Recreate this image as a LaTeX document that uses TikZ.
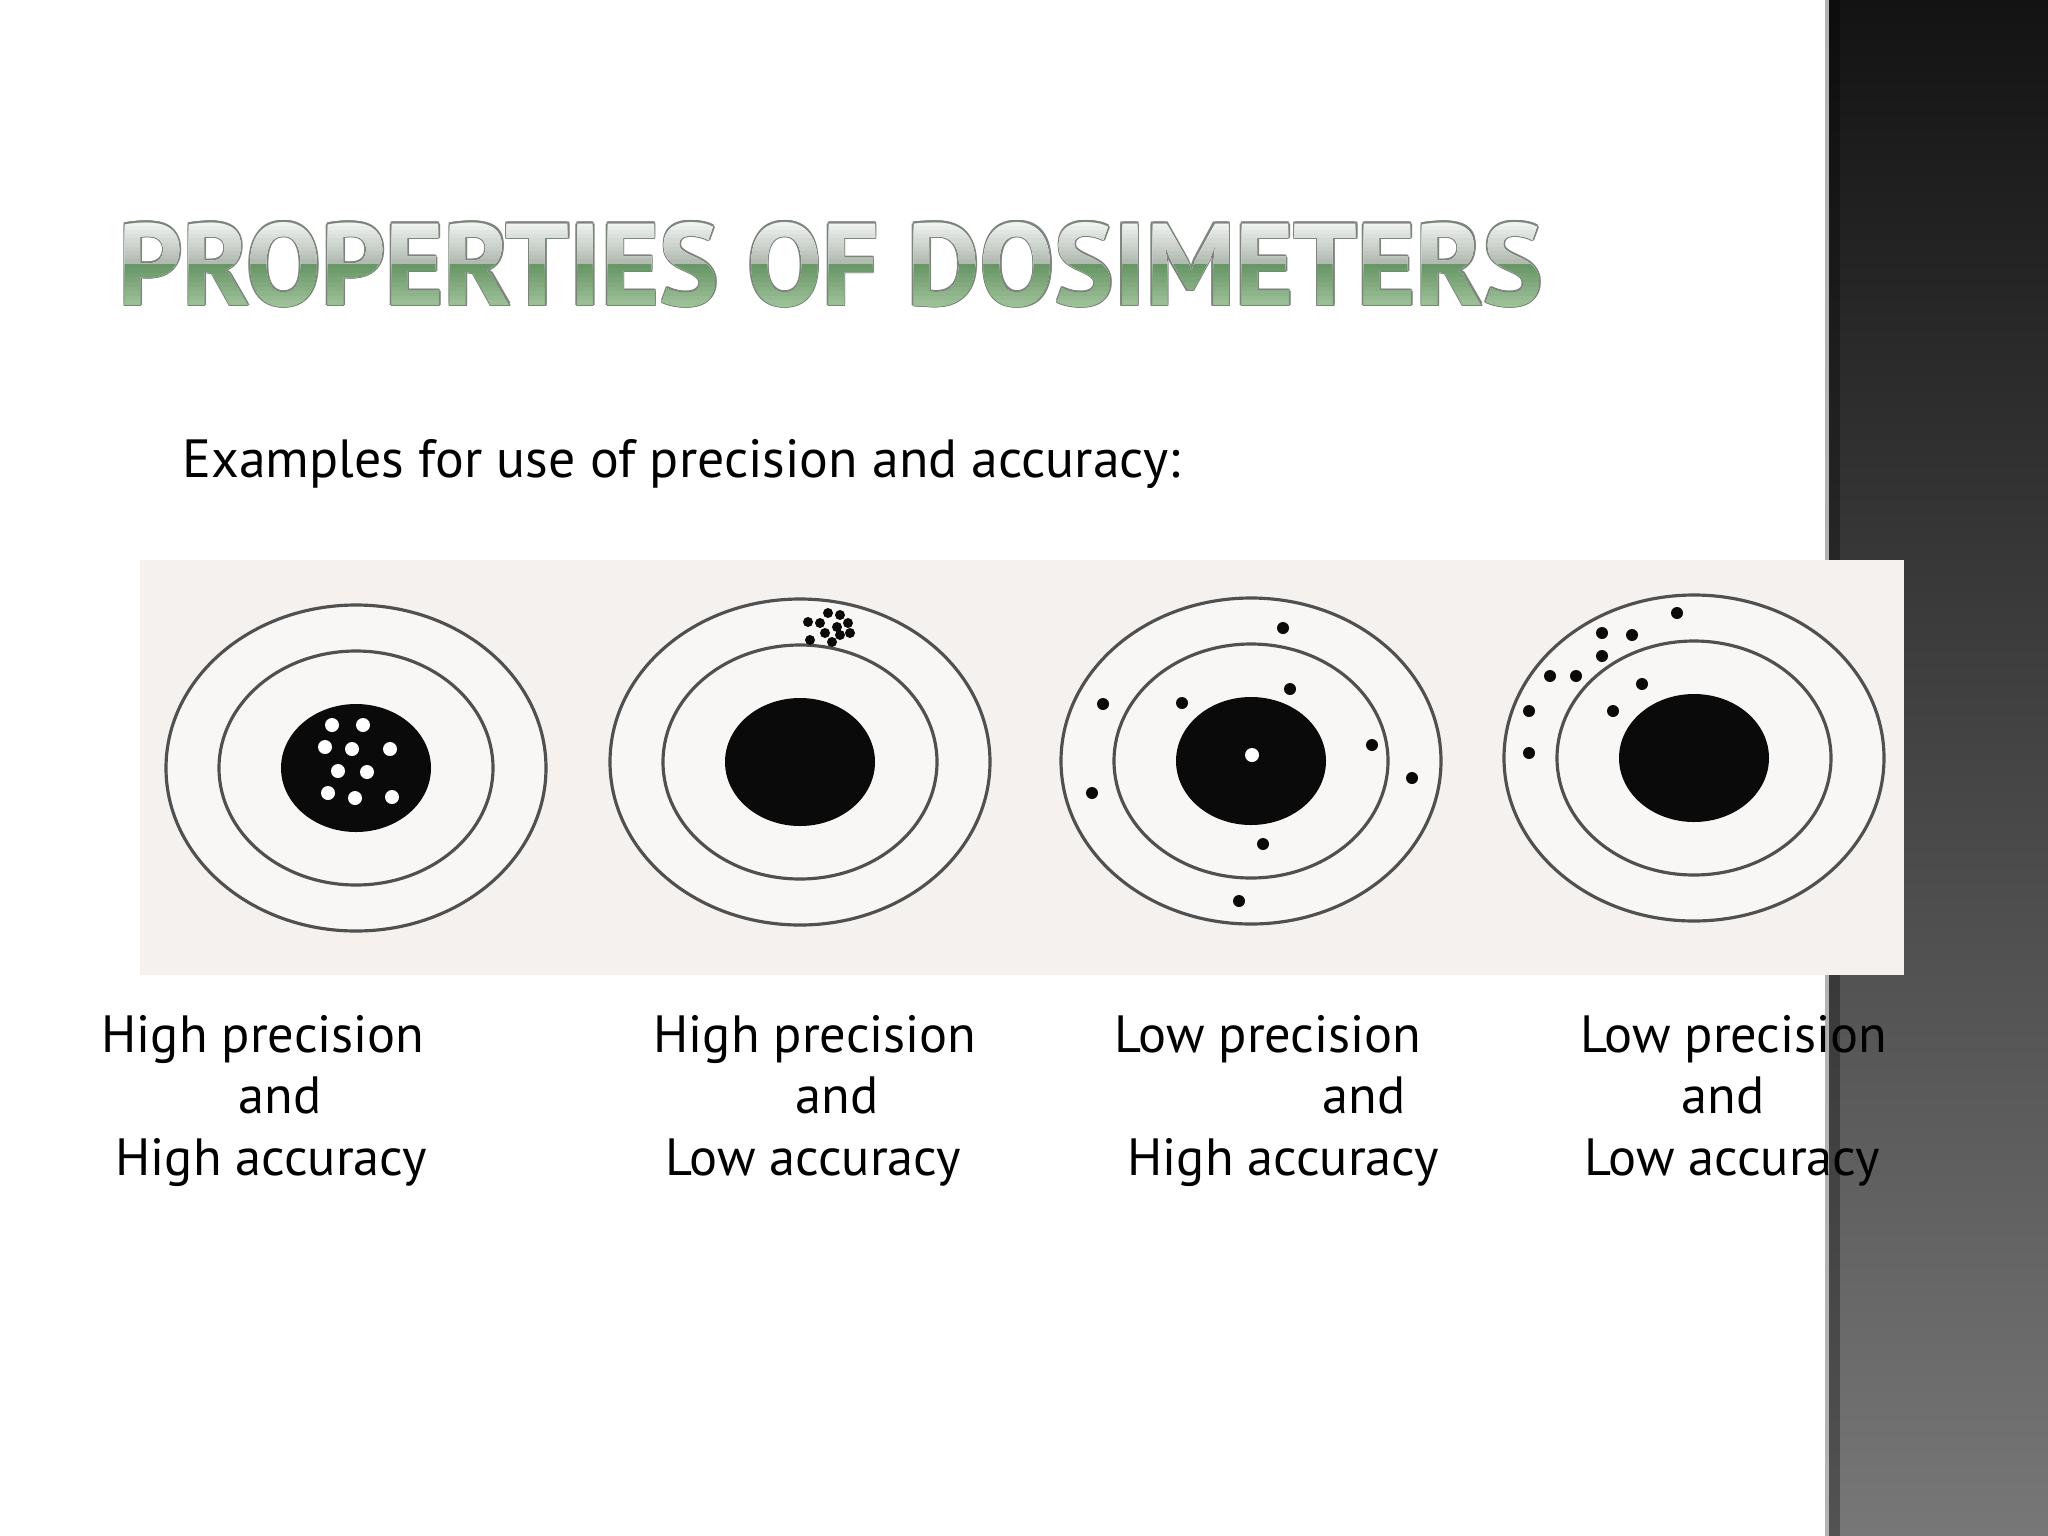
\documentclass[tikz,border=0pt]{standalone}
\usepackage{fontspec}
\setmainfont{PT Sans}
\usepackage{graphicx}
\usepackage{tikz}
\definecolor{ink}{HTML}{0A0A0A}
\definecolor{paper}{HTML}{F4F1EE}
\definecolor{face}{HTML}{F8F7F5}
\definecolor{ringgray}{HTML}{505050}
\definecolor{titletop}{HTML}{F0F2F0}
\definecolor{titlemid}{HTML}{B2BAB2}
\definecolor{titlegreen}{HTML}{689666}
\definecolor{titlelow}{HTML}{A8C8A2}
\definecolor{titleedge}{HTML}{7C847C}
\definecolor{paneltop}{HTML}{131313}
\definecolor{panelbottom}{HTML}{777777}
\newcommand{\titletext}{\resizebox{14.23cm}{0.83cm}{\bfseries PROPERTIES OF DOSIMETERS}}
\newcommand{\drawtarget}[1]{%
  \fill[face] (#1) ellipse [x radius=190, y radius=163];
  \draw[ring] (#1) ellipse [x radius=190, y radius=163];
  \draw[ring] (#1) ellipse [x radius=137, y radius=117];
  \fill[ink] (#1) ellipse [x radius=75, y radius=64];}

\begin{document}
\begin{tikzpicture}[x=0.01cm,y=-0.01cm,
      titlebox/.style={anchor=base west,inner sep=0},
      lbl/.style={anchor=base west,inner sep=0,font=\fontsize{14.9}{17}\selectfont},
      ring/.style={draw=ringgray,line width=.9pt},
      hole/.style={fill=white},
      hit/.style={fill=ink}]
      \useasboundingbox (0,0) rectangle (2048,1536);
      \fill[white] (0,0) rectangle (2048,1536);
      % side panel
      \shade[top color=paneltop,bottom color=panelbottom] (1826,0) rectangle (2048,1536);
      \fill[black,opacity=.3] (1828,0) rectangle (1840,1536);
      \draw[gray!60,line width=1] (1827,0) -- (1827,1536);
      % title
      \foreach \a in {0,45,...,315}
        \node[titlebox,text=titleedge] at ([shift={(\a:1.7)}]118,305) {\titletext};
      \node[titlebox,text=titletop] (title) at (118,305) {\titletext};
      \foreach \i [evaluate=\i as \p using {100-11*\i}] in {1,...,9}{
        \begin{scope}
          \clip (100,222+4.2*\i) rectangle (1560,320);
          \node[titlebox,text=titletop!\p!titlemid] at (118,305) {\titletext};
        \end{scope}}
      \foreach \i [evaluate=\i as \p using {100-10*\i}] in {0,...,9}{
        \begin{scope}
          \clip (100,264+4.6*\i) rectangle (1560,320);
          \node[titlebox,text=titlegreen!\p!titlelow] at (118,305) {\titletext};
        \end{scope}}
      \node[anchor=base west,inner sep=0,font=\fontsize{15.3}{18}\selectfont] (intro) at (182,477)
        {Examples for use of precision and accuracy:};
      % photo of the four targets
      \fill[paper] (140,560) rectangle (1904,975);
      \drawtarget{356,768}
      \drawtarget{800,762}
      \drawtarget{1251,761}
      \drawtarget{1694,758}
      \foreach \x/\y in {332/725,363/725,325/747,352/749,390/749,338/771,367/772,328/793,355/798,392/797}
        \fill[hole] (\x,\y) circle (7);
      \foreach \x/\y in {828/613,840/615,808/622,820/623,837/627,848/623,825/633,840/635,810/640,850/633,832/642}
        \fill[hit] (\x,\y) circle (5);
      \fill[hole] (1252,755) circle (7);
      \foreach \x/\y in {1283/628,1290/689,1103/704,1182/703,1372/745,1412/778,1092/793,1263/844,1239/901}
        \fill[hit] (\x,\y) circle (6);
      \foreach \x/\y in {1677/613,1602/633,1632/635,1602/656,1550/676,1576/676,1642/684,1529/711,1613/711,1529/753}
        \fill[hit] (\x,\y) circle (6);
      % captions
      \foreach \n/\xa/\xb/\xc/\p/\q in {1/101/238/115/High/High,2/653/795/665/High/Low,
                                         3/1114/1322/1127/Low/High,4/1580/1681/1584/Low/Low}{
        \node[lbl] (prec\n) at (\xa,1052) {\p\ precision};
        \node[lbl] (and\n) at (\xb,1113) {and};
        \node[lbl] (acc\n) at (\xc,1175) {\q\ accuracy};}
    \end{tikzpicture}
\end{document}
